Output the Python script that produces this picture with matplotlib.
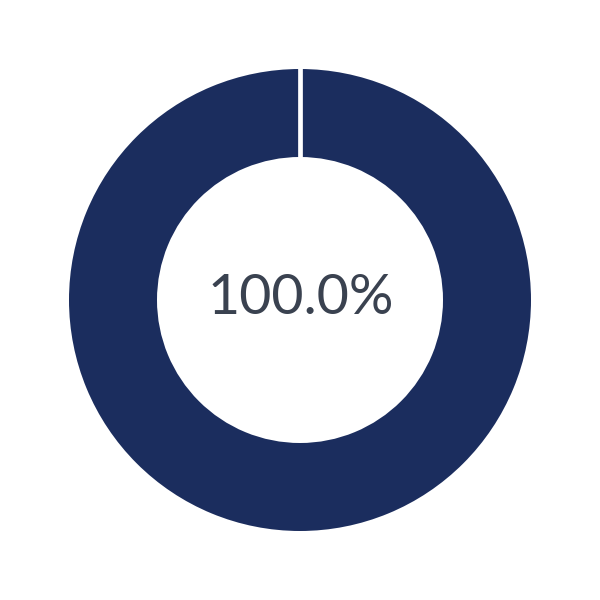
import matplotlib
matplotlib.use("Agg")
import matplotlib.pyplot as plt

labels = ["Complete"]
values = [100.0]
center_label = "100.0%"

cx, cy = 300, 300
r_out, ring = 231, 88

fig = plt.figure(figsize=(6, 6), dpi=100)
ax = fig.add_axes([0, 0, 1, 1])

ax.pie(values, labels=None, colors=["#1b2d5e"], startangle=90, counterclock=False,
       center=(cx, cy), radius=r_out,
       wedgeprops=dict(width=ring, linewidth=0))

# white seam where the single slice starts/ends
ax.plot([cx, cx], [cy + r_out - ring - 2, cy + r_out + 2], color="white",
        linewidth=3.4, solid_capstyle="butt")

# pie() resets the limits, so set them afterwards
ax.set_xlim(0, 600)
ax.set_ylim(0, 600)
ax.set_aspect("equal")
ax.axis("off")

ax.text(cx + 1, cy + 2, center_label, ha="center", va="center", fontsize=40,
        family=["Lato", "DejaVu Sans"], weight="normal", color="#3a4250")

fig.savefig("out.png", dpi=100, facecolor="white")
